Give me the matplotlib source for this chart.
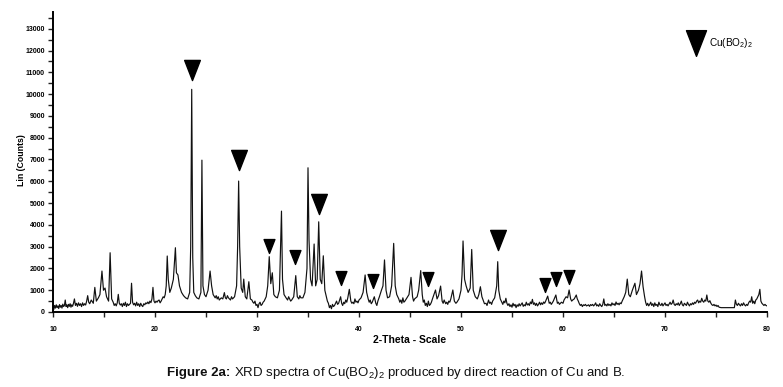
"""XRD pattern of Cu(BO2)2 (Figure 2a) redrawn with matplotlib."""

import matplotlib

matplotlib.use("Agg")
import matplotlib.pyplot as plt
from matplotlib.lines import Line2D
from matplotlib.path import Path
from matplotlib.ticker import MultipleLocator

# traced pattern as (2-theta in deg, intensity in counts)
trace = [
    (10.0, 250), (10.08, 120), (10.16, 300), (10.24, 180), (10.32, 330), (10.4, 200),
    (10.48, 280), (10.56, 160), (10.64, 340), (10.72, 220), (10.8, 300), (10.88, 180),
    (10.96, 360), (11.04, 250), (11.12, 300), (11.2, 550), (11.28, 250), (11.36, 330),
    (11.44, 200), (11.52, 350), (11.6, 260), (11.68, 380), (11.76, 220), (11.84, 330),
    (11.92, 260), (12.0, 380), (12.1, 600), (12.2, 300), (12.3, 400), (12.4, 260),
    (12.5, 420), (12.6, 300), (12.7, 380), (12.8, 250), (12.9, 420), (13.0, 300),
    (13.1, 380), (13.2, 320), (13.3, 500), (13.4, 750), (13.5, 450), (13.6, 380),
    (13.75, 550), (13.95, 400), (14.1, 1130), (14.25, 500), (14.45, 650), (14.6, 800),
    (14.8, 1880), (14.95, 1000), (15.1, 1100), (15.25, 700), (15.45, 500), (15.6, 2720),
    (15.75, 600), (15.9, 450), (16.0, 300), (16.1, 380), (16.2, 280), (16.3, 420),
    (16.4, 810), (16.5, 400), (16.6, 320), (16.7, 380), (16.8, 250), (16.9, 400),
    (17.0, 300), (17.1, 450), (17.2, 250), (17.3, 380), (17.4, 300), (17.5, 350),
    (17.6, 400), (17.7, 1320), (17.8, 450), (17.9, 330), (18.0, 400), (18.1, 280),
    (18.2, 450), (18.3, 300), (18.4, 380), (18.5, 250), (18.6, 400), (18.7, 300),
    (18.8, 250), (18.9, 380), (19.0, 330), (19.1, 420), (19.2, 380), (19.3, 460),
    (19.4, 380), (19.5, 500), (19.6, 430), (19.7, 600), (19.8, 1130), (19.9, 500),
    (20.0, 420), (20.1, 500), (20.2, 450), (20.3, 520), (20.4, 550), (20.5, 420),
    (20.6, 500), (20.7, 600), (20.8, 700), (20.9, 650), (21.0, 800), (21.1, 1200),
    (21.2, 2570), (21.3, 1500), (21.45, 900), (21.6, 1100), (21.8, 1500), (22.0, 2950),
    (22.1, 1800), (22.25, 1700), (22.4, 1200), (22.6, 900), (22.8, 750), (23.0, 650),
    (23.2, 600), (23.4, 900), (23.5, 3000), (23.6, 10220), (23.7, 2500), (23.8, 900),
    (23.95, 750), (24.1, 650), (24.3, 600), (24.5, 900), (24.6, 6970), (24.7, 1200),
    (24.85, 800), (25.0, 700), (25.2, 1000), (25.4, 1880), (25.55, 1200), (25.7, 800),
    (25.9, 650), (26.0, 750), (26.1, 600), (26.2, 700), (26.3, 550), (26.5, 650),
    (26.65, 600), (26.8, 890), (26.9, 650), (27.0, 600), (27.1, 750), (27.2, 650),
    (27.4, 550), (27.5, 700), (27.6, 600), (27.8, 700), (28.0, 1200), (28.1, 3000),
    (28.2, 6010), (28.3, 3000), (28.45, 1100), (28.6, 900), (28.7, 1510), (28.85, 700),
    (29.0, 600), (29.2, 1390), (29.35, 600), (29.5, 550), (29.6, 450), (29.7, 400),
    (29.8, 500), (29.9, 300), (30.0, 350), (30.1, 200), (30.2, 380), (30.3, 450),
    (30.4, 300), (30.5, 350), (30.6, 450), (30.7, 500), (30.9, 700), (31.05, 1200),
    (31.2, 2540), (31.35, 1300), (31.5, 1800), (31.65, 800), (31.8, 700), (32.0, 650),
    (32.2, 1000), (32.4, 4630), (32.5, 1500), (32.65, 800), (32.85, 650), (33.0, 550),
    (33.1, 700), (33.2, 600), (33.3, 500), (33.4, 550), (33.6, 700), (33.8, 1670),
    (33.95, 700), (34.1, 600), (34.2, 750), (34.3, 650), (34.5, 650), (34.7, 900),
    (34.9, 2000), (35.0, 6620), (35.1, 3300), (35.25, 1500), (35.4, 1200), (35.6, 3120),
    (35.75, 1200), (35.9, 1500), (36.05, 4140), (36.2, 1500), (36.35, 1300), (36.5, 2580),
    (36.65, 1000), (36.8, 700), (36.9, 500), (37.0, 400), (37.1, 200), (37.2, 300),
    (37.3, 150), (37.4, 350), (37.5, 250), (37.6, 300), (37.7, 400), (37.8, 500),
    (37.9, 350), (38.0, 400), (38.1, 550), (38.2, 700), (38.3, 400), (38.4, 300),
    (38.5, 450), (38.6, 380), (38.7, 550), (38.8, 450), (38.9, 650), (39.05, 1040),
    (39.2, 500), (39.3, 400), (39.4, 450), (39.5, 380), (39.6, 600), (39.7, 450),
    (39.8, 500), (39.9, 420), (40.0, 550), (40.2, 650), (40.4, 900), (40.6, 1700),
    (40.75, 900), (40.9, 600), (41.0, 450), (41.1, 550), (41.2, 380), (41.3, 450),
    (41.5, 700), (41.65, 400), (41.75, 300), (41.85, 500), (42.0, 700), (42.2, 1000),
    (42.35, 1200), (42.5, 2390), (42.65, 1000), (42.8, 650), (43.0, 700), (43.2, 1200),
    (43.4, 3150), (43.55, 1200), (43.7, 800), (43.9, 600), (44.0, 450), (44.1, 550),
    (44.2, 400), (44.3, 650), (44.4, 450), (44.5, 500), (44.7, 650), (44.9, 800),
    (45.1, 1590), (45.25, 700), (45.35, 500), (45.45, 600), (45.7, 700), (45.85, 1000),
    (46.05, 1900), (46.2, 800), (46.3, 450), (46.4, 550), (46.5, 300), (46.6, 400),
    (46.7, 250), (46.8, 500), (46.9, 300), (47.0, 350), (47.1, 450), (47.2, 600),
    (47.5, 1010), (47.65, 600), (47.8, 750), (48.0, 1190), (48.15, 500), (48.25, 400),
    (48.35, 550), (48.5, 380), (48.6, 450), (48.7, 350), (48.8, 500), (48.9, 450),
    (49.0, 600), (49.2, 1010), (49.35, 500), (49.5, 400), (49.6, 450), (49.8, 600),
    (50.0, 1000), (50.1, 1700), (50.2, 3260), (50.35, 1500), (50.5, 1200), (50.7, 900),
    (50.9, 1100), (51.05, 2870), (51.2, 1000), (51.4, 700), (51.6, 600), (51.75, 800),
    (51.9, 1160), (52.05, 700), (52.2, 500), (52.3, 380), (52.45, 400), (52.55, 300),
    (52.7, 550), (52.8, 400), (52.9, 450), (53.0, 350), (53.1, 500), (53.3, 650),
    (53.5, 1200), (53.6, 2310), (53.7, 1000), (53.85, 600), (54.0, 450), (54.1, 350),
    (54.2, 500), (54.3, 420), (54.4, 630), (54.5, 400), (54.6, 300), (54.7, 380),
    (54.8, 250), (54.9, 330), (55.0, 220), (55.1, 400), (55.2, 280), (55.3, 350),
    (55.4, 200), (55.5, 330), (55.6, 260), (55.7, 380), (55.8, 280), (55.9, 350),
    (56.0, 420), (56.1, 260), (56.2, 330), (56.3, 280), (56.4, 450), (56.5, 320),
    (56.6, 380), (56.7, 300), (56.8, 460), (56.9, 380), (57.0, 580), (57.1, 350),
    (57.2, 420), (57.3, 300), (57.4, 400), (57.5, 280), (57.6, 350), (57.7, 450),
    (57.8, 330), (57.9, 420), (58.0, 350), (58.1, 460), (58.2, 400), (58.3, 500),
    (58.5, 730), (58.65, 400), (58.75, 450), (58.85, 350), (58.95, 420), (59.05, 500),
    (59.3, 780), (59.45, 400), (59.55, 450), (59.65, 350), (59.75, 400), (59.85, 450),
    (60.0, 400), (60.1, 550), (60.3, 700), (60.45, 650), (60.6, 1010), (60.75, 600),
    (60.85, 500), (60.95, 550), (61.1, 600), (61.3, 780), (61.4, 600), (61.5, 500),
    (61.6, 380), (61.7, 300), (61.8, 350), (61.9, 250), (62.0, 330), (62.1, 300),
    (62.2, 350), (62.3, 280), (62.4, 300), (62.5, 330), (62.6, 260), (62.7, 340),
    (62.8, 300), (62.9, 350), (63.0, 280), (63.1, 330), (63.2, 420), (63.3, 280),
    (63.4, 330), (63.5, 260), (63.6, 380), (63.7, 300), (63.8, 250), (63.9, 350),
    (64.0, 600), (64.1, 300), (64.2, 350), (64.3, 280), (64.4, 380), (64.5, 300),
    (64.6, 350), (64.7, 280), (64.8, 420), (64.9, 330), (65.0, 380), (65.1, 300),
    (65.2, 460), (65.3, 350), (65.4, 400), (65.5, 330), (65.6, 420), (65.7, 380),
    (65.8, 500), (65.9, 600), (66.0, 700), (66.15, 900), (66.3, 1510), (66.45, 800),
    (66.6, 700), (66.8, 1000), (67.05, 1320), (67.2, 800), (67.4, 1000), (67.55, 1300),
    (67.7, 1880), (67.85, 1160), (68.0, 700), (68.1, 450), (68.2, 300), (68.3, 400),
    (68.4, 280), (68.5, 350), (68.6, 450), (68.7, 300), (68.8, 380), (68.9, 250),
    (69.0, 420), (69.1, 300), (69.2, 350), (69.3, 250), (69.4, 450), (69.5, 330),
    (69.6, 300), (69.7, 400), (69.8, 280), (69.9, 350), (70.0, 420), (70.1, 300),
    (70.2, 350), (70.3, 280), (70.5, 450), (70.6, 350), (70.7, 400), (70.8, 550),
    (70.9, 350), (71.0, 300), (71.1, 380), (71.2, 330), (71.3, 420), (71.4, 300),
    (71.5, 380), (71.6, 500), (71.7, 330), (71.8, 280), (71.9, 400), (72.0, 350),
    (72.1, 300), (72.2, 450), (72.3, 350), (72.4, 280), (72.5, 380), (72.6, 330),
    (72.7, 420), (72.8, 350), (72.9, 450), (73.0, 400), (73.1, 500), (73.2, 550),
    (73.3, 420), (73.4, 500), (73.5, 450), (73.6, 630), (73.7, 500), (73.8, 450),
    (73.9, 550), (74.0, 500), (74.1, 780), (74.2, 500), (74.3, 450), (74.4, 520),
    (74.5, 400), (74.6, 330), (74.7, 300), (74.8, 350), (74.9, 280), (75.0, 320),
    (75.1, 250), (75.2, 300), (75.3, 220), (75.5, 200), (76.8, 200), (76.9, 550),
    (77.0, 350), (77.1, 300), (77.2, 400), (77.3, 330), (77.4, 280), (77.5, 380),
    (77.6, 300), (77.7, 420), (77.8, 330), (77.9, 280), (78.0, 350), (78.1, 300),
    (78.2, 420), (78.3, 500), (78.4, 450), (78.5, 700), (78.6, 400), (78.7, 500),
    (78.8, 380), (78.9, 550), (79.0, 600), (79.1, 700), (79.2, 800), (79.3, 1040),
    (79.4, 500), (79.5, 400), (79.6, 350), (79.7, 300), (79.8, 350), (79.9, 300),
    (80.0, 280),
]
two_theta = [p[0] for p in trace]
counts = [p[1] for p in trace]

# Cu(BO2)2 reflection markers (marker centre, counts)
major_theta = [23.6, 28.2, 36.05, 53.6]
major_level = [11100, 6970, 4980, 3320]
minor_theta = [31.2, 33.7, 38.2, 41.4, 46.8, 58.2, 59.3, 60.6]
minor_level = [3030, 2520, 1540, 1420, 1510, 1240, 1510, 1600]

x_ticks = [10, 20, 30, 40, 50, 60, 70, 80]
y_ticks = list(range(0, 14000, 1000))

plt.rcParams["font.family"] = ["Liberation Sans", "DejaVu Sans"]
plt.rcParams["mathtext.fontset"] = "custom"
plt.rcParams["mathtext.rm"] = "Liberation Sans"
plt.rcParams["mathtext.default"] = "regular"

# downward triangle a little taller than wide
tri = Path([(-0.78, 1.0), (0.78, 1.0), (0.0, -1.0), (-0.78, 1.0)],
           [Path.MOVETO, Path.LINETO, Path.LINETO, Path.CLOSEPOLY])

fig = plt.figure(figsize=(7.83, 3.87), dpi=100)
ax = fig.add_axes([53 / 783, 1 - 312 / 387, (767 - 53) / 783, 300 / 387])

ax.plot(two_theta, counts, color="#111111", lw=0.85)
ax.plot(major_theta, major_level, ls="none", marker=tri, ms=14.5, color="black")
ax.plot(minor_theta, minor_level, ls="none", marker=tri, ms=10, color="black")

ax.set_xlim(10, 80)
ax.set_ylim(0, 13770)
ax.set_xticks(x_ticks)
ax.set_xticklabels([str(t) for t in x_ticks])
ax.set_yticks(y_ticks)
ax.set_yticklabels([str(t) for t in y_ticks])
ax.xaxis.set_minor_locator(MultipleLocator(5))
ax.yaxis.set_minor_locator(MultipleLocator(500))

for side in ("top", "right"):
    ax.spines[side].set_visible(False)
for side in ("left", "bottom"):
    ax.spines[side].set_linewidth(1.4)
ax.tick_params(which="both", direction="out", width=1.0, length=3.8, color="#222222")
ax.tick_params(axis="x", pad=6, labelsize=5)
ax.tick_params(axis="y", pad=2, labelsize=5)
for lab in ax.get_xticklabels() + ax.get_yticklabels():
    lab.set_fontweight("bold")

fig.text(21 / 783, 1 - 160 / 387, "Lin (Counts)", rotation=90, fontsize=6.3,
         fontweight="bold", ha="center", va="center")
fig.text(410 / 783, 1 - 340 / 387, "2-Theta - Scale", fontsize=7.5,
         fontweight="bold", ha="center", va="center")

handle = Line2D([], [], ls="none", marker=tri, ms=18.5, color="black")
ax.legend([handle], [r"Cu(BO$_2$)$_2$"], loc="center left", frameon=False,
          bbox_to_anchor=(685 / 783, 1 - 43 / 387), bbox_transform=fig.transFigure,
          fontsize=7.2, handlelength=1.2, handletextpad=0.7, borderpad=0)

# caption: bold lead-in followed by plain text on the same baseline
cap_y = 1 - 376 / 387
lead = fig.text(167 / 783, cap_y, "Figure 2a:", fontsize=9.5, fontweight="bold",
                ha="left", va="baseline", color="#111111")
fig.canvas.draw()
lead_box = lead.get_window_extent()
fig.text((lead_box.x1 + 4) / 783, cap_y,
         r"XRD spectra of Cu(BO$_2$)$_2$ produced by direct reaction of Cu and B.",
         fontsize=9.5, ha="left", va="baseline", color="#111111")

fig.savefig("out.png", dpi=100)
